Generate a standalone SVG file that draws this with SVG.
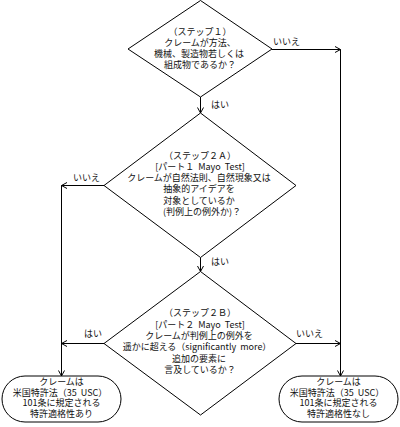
<svg xmlns="http://www.w3.org/2000/svg" width="400" height="427" viewBox="0 0 400 427">
<defs>
<marker id="arr" markerUnits="userSpaceOnUse" markerWidth="8" markerHeight="8" refX="6" refY="3.5" orient="auto">
<path d="M0.5,0.5 L6,3.5 L0.5,6.5" fill="none" stroke="#000" stroke-width="1"/>
</marker>
<style>
.shape{fill:#fff;stroke:#000;stroke-width:1}
.conn{fill:none;stroke:#000;stroke-width:1;marker-end:url(#arr)}
text{font-family:"Noto Sans CJK JP","Noto Sans",sans-serif;font-size:9px;fill:#111;text-anchor:middle}
.lbl{text-anchor:start}
</style>
</defs>
<rect width="400" height="427" fill="#fff"/>
<g id="connectors">
<path class="conn" d="M200.5,97 V113"/>
<path class="conn" d="M272,49.5 H340.5"/>
<path class="conn" d="M340.5,49.5 V376"/>
<path class="conn" d="M104,185.5 H61.5"/>
<path class="conn" d="M61.5,185.5 V376"/>
<path class="conn" d="M200.5,257.5 V271.5"/>
<path class="conn" d="M104,343.5 H61.5"/>
<path class="conn" d="M296,343.5 H340.5"/>
<text class="lbl" x="273" y="45">いいえ</text>
<text class="lbl" x="211" y="108">はい</text>
<text class="lbl" x="73" y="180.5">いいえ</text>
<text class="lbl" x="211" y="265">はい</text>
<text class="lbl" x="84" y="337">はい</text>
<text class="lbl" x="296" y="337">いいえ</text>
</g>
<g id="step1">
<polygon class="shape" points="200.5,0.5 272,49 200.5,97 128,49"/>
<text x="200" y="35.2">（ステップ１）</text>
<text x="200" y="46.2">クレームが方法、</text>
<text x="199" y="57.2">機械、製造物若しくは</text>
<text x="200" y="68.2">組成物であるか？</text>
</g>
<g id="step2a">
<polygon class="shape" points="200.5,113 296,185.5 200.5,257.5 104,185.5"/>
<text x="200" y="158.7">（ステップ２Ａ）</text>
<text x="200" y="169.9">[パート１&#160;&#160;Mayo&#160;&#160;Test]</text>
<text x="199" y="181.2">クレームが自然法則、自然現象又は</text>
<text x="199" y="192.4">抽象的アイデアを</text>
<text x="199" y="203.6">対象としているか</text>
<text x="202" y="214.8">(判例上の例外か)？</text>
</g>
<g id="step2b">
<polygon class="shape" points="200.5,271.5 296,343.5 200.5,415 104,343.5"/>
<text x="200" y="316.2">（ステップ２Ｂ）</text>
<text x="200" y="327.6">[パート２&#160;&#160;Mayo&#160;&#160;Test]</text>
<text x="199" y="339">クレームが判例上の例外を</text>
<text x="197" y="350.4">遥かに超える（significantly&#160;&#160;more）</text>
<text x="199" y="361.8">追加の要素に</text>
<text x="200" y="373.2">言及しているか？</text>
</g>
<g id="eligible">
<rect class="shape" x="2" y="376" width="119" height="46" rx="23" ry="23"/>
<text x="61.5" y="385.2">クレームは</text>
<text x="60" y="395.7">米国特許法（35&#160;&#160;USC）</text>
<text x="61.5" y="406.2">101条に規定される</text>
<text x="61.5" y="416.7">特許適格性あり</text>
</g>
<g id="not-eligible">
<rect class="shape" x="279" y="376" width="119" height="46" rx="23" ry="23"/>
<text x="338.5" y="385.2">クレームは</text>
<text x="337" y="395.7">米国特許法（35&#160;&#160;USC）</text>
<text x="338.5" y="406.2">101条に規定される</text>
<text x="338.5" y="416.7">特許適格性なし</text>
</g>
</svg>
